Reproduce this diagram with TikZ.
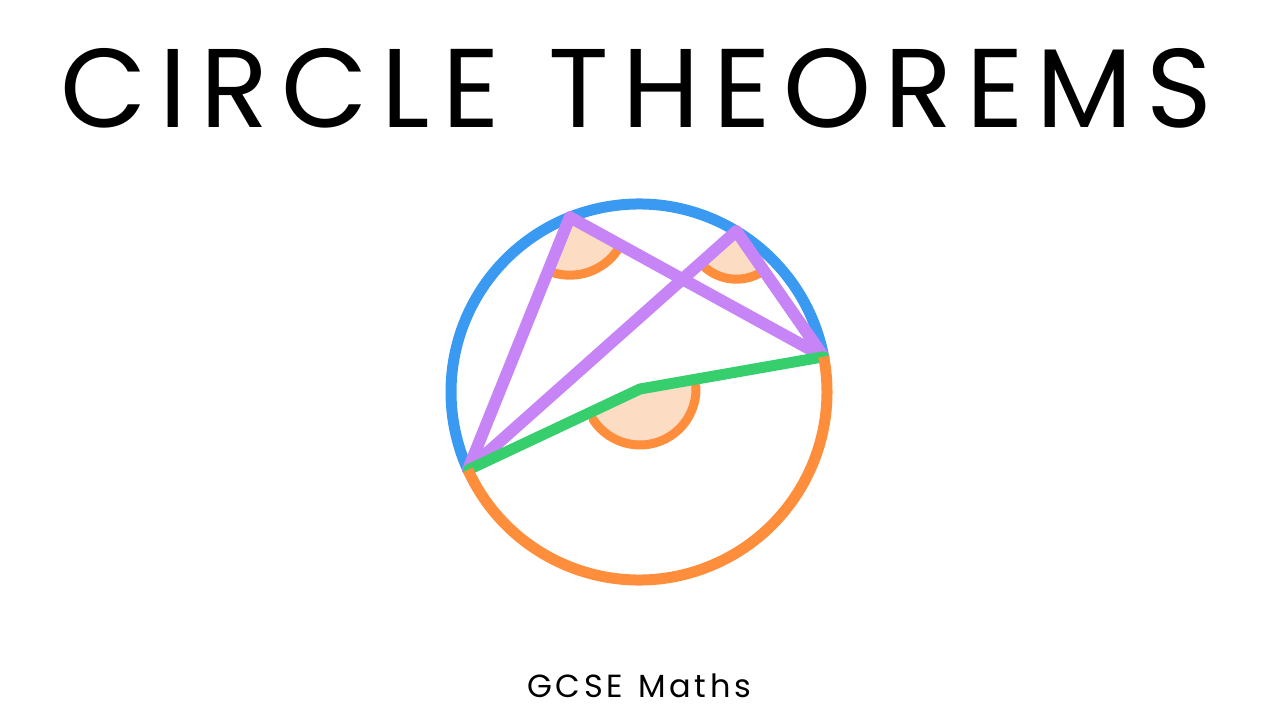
\documentclass[tikz,border=0pt]{standalone}
\usepackage{fontspec}
\setmainfont{Poppins}
\usetikzlibrary{calc}
\definecolor{cblue}{HTML}{3A9AF2}
\definecolor{corange}{HTML}{FF8E3C}
\definecolor{cpurple}{HTML}{C684F6}
\definecolor{cgreen}{HTML}{37CF6D}
\definecolor{cpeach}{HTML}{FDDCC4}
\tikzset{
  arcline/.style={line width=11pt},
  chord/.style={cpurple, line width=12pt, line cap=round, line join=round},
  radius line/.style={cgreen, line width=11pt, line cap=round, line join=round},
  anglemark/.style={corange, line width=9pt, line cap=round},
  anglefill/.style={fill=cpeach, draw=none},
}
\begin{document}
\begin{tikzpicture}[x=1pt,y=1pt]
\useasboundingbox (0,0) rectangle (1280,720);
\def\R{188}
\coordinate (Ctr) at (639,328);
\coordinate (O) at (640,331);
\coordinate (A) at ($(Ctr)+(204.5:\R)$);
\coordinate (B) at ($(Ctr)+(111.6:\R)$);
\coordinate (C) at ($(Ctr)+(58.8:\R)$);
\coordinate (D) at ($(Ctr)+(10.8:\R)$);
% angle fills
\fill[anglefill] (B) -- ++(248.05:58) arc[start angle=248.05,end angle=331.2,radius=58] -- cycle;
\fill[anglefill] (C) -- ++(221.65:48) arc[start angle=221.65,end angle=304.8,radius=48] -- cycle;
\fill[anglefill] (O) -- ++(204.5:56) arc[start angle=204.5,end angle=370.8,radius=56] -- cycle;
% angle arcs
\draw[anglemark] ($(B)+(253:58)$) arc[start angle=253,end angle=325,radius=58];
\draw[anglemark] ($(C)+(229:48)$) arc[start angle=229,end angle=299,radius=48];
\draw[anglemark] ($(O)+(213:56)$) arc[start angle=213,end angle=363,radius=56];
% circle arcs
\draw[arcline, cblue] (D) arc[start angle=10.8,end angle=204.5,radius=\R];
% chords
\draw[chord] (A) -- (B) -- (D) -- (C) -- cycle;
% radii
\draw[radius line] (A) -- (O) -- (D);
\draw[arcline, corange] (A) arc[start angle=204.5,end angle=370.8,radius=\R];
% texts
\node[anchor=base west, inner sep=0pt] (title) at (60,592)
  {\fontsize{112}{112}\selectfont\makebox[1152pt][s]{C\hfill I\hfill R\hfill C\hfill L\hfill E\hfill\kern 22pt\hfill T\hfill H\hfill E\hfill O\hfill R\hfill E\hfill M\hfill S}};
\node[anchor=base west, inner sep=0pt] (subtitle) at (527,22)
  {\fontsize{32}{32}\selectfont\makebox[224pt][s]{G\hfill C\hfill S\hfill E\hfill\kern 8pt\hfill M\hfill a\hfill t\hfill h\hfill s}};
\end{tikzpicture}
\end{document}
